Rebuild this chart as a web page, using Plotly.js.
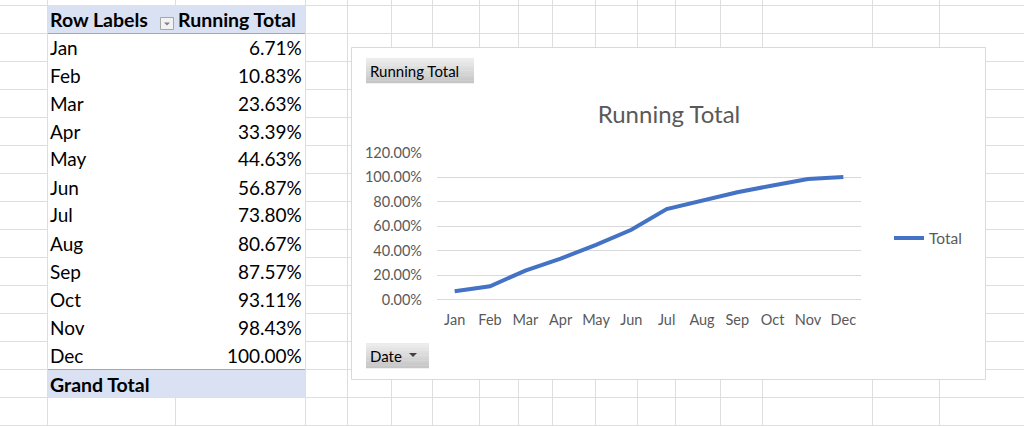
<!DOCTYPE html>
<html>
<head>
<meta charset="utf-8">
<script src="https://cdn.plot.ly/plotly-3.0.1.min.js"></script>
<style>html,body{margin:0;padding:0;background:#fff;}#chart{width:1024px;height:426px;}</style>
</head>
<body>
<div id="chart"></div>
<script>
// ---- data ----
const months = ['Jan','Feb','Mar','Apr','May','Jun','Jul','Aug','Sep','Oct','Nov','Dec'];
const runningTotal = [0.0671, 0.1083, 0.2363, 0.3339, 0.4463, 0.5687, 0.7380, 0.8067, 0.8757, 0.9311, 0.9843, 1.0000];
const seriesName = 'Total';
const chartTitle = 'Running Total';
const rowHeader = 'Row Labels';
const valueHeader = 'Running Total';
const grandTotalLabel = 'Grand Total';
const fieldButton = 'Running Total';
const axisButton = 'Date';

// ---- helpers (pixel -> paper) ----
const W = 1024, H = 426;
const X = p => p / W;
const Y = p => 1 - p / H;
const shapes = [];
const annotations = [];
function hline(x0, x1, y, color) {
  shapes.push({type:'line', xref:'paper', yref:'paper', layer:'below',
    x0:X(x0), x1:X(x1), y0:Y(y+0.5), y1:Y(y+0.5), line:{color:color, width:1}});
}
function vline(x, y0, y1, color) {
  shapes.push({type:'line', xref:'paper', yref:'paper', layer:'below',
    x0:X(x+0.5), x1:X(x+0.5), y0:Y(y0), y1:Y(y1), line:{color:color, width:1}});
}
function rect(x0, y0, x1, y1, fill, lc) {
  shapes.push({type:'rect', xref:'paper', yref:'paper', layer:'below',
    x0:X(x0), x1:X(x1), y0:Y(y1), y1:Y(y0), fillcolor:fill,
    line: lc ? {color:lc, width:1} : {width:0}});
}
function tri(pts, fill) {
  const d = 'M' + pts.map(p => X(p[0]) + ',' + Y(p[1])).join('L') + 'Z';
  shapes.push({type:'path', xref:'paper', yref:'paper', layer:'below', path:d,
    fillcolor:fill, line:{width:0}});
}
function gradButton(x0, y0, x1, y1) {
  const top = [236,236,236], bot = [198,198,198];
  const n = 10, h = (y1 - y0) / n;
  for (let i = 0; i < n; i++) {
    const t = i / (n - 1);
    const c = top.map((v, k) => Math.round(v + (bot[k] - v) * t));
    rect(x0, y0 + i * h, x1, y0 + (i + 1) * h + 0.3, 'rgb(' + c.join(',') + ')');
  }
}
function text(t, x, y, anchor, opts) {
  opts = opts || {};
  annotations.push({xref:'paper', yref:'paper', x:X(x), y:Y(y), text:t,
    showarrow:false, xanchor:anchor, yanchor:'middle', borderpad:0,
    font:{family:opts.family || 'Lato', size:opts.size || 19, color:opts.color || '#000000'}});
}

// ---- spreadsheet grid ----
const gridColor = '#dedede';
const colLines = [47, 175, 305, 347, 391, 432, 479, 518, 552, 595, 637, 675, 720, 762, 872, 939];
for (let k = 0; k <= 15; k++) hline(0, W, 5 + 28 * k, gridColor);
colLines.forEach(c => vline(c, 0, H, gridColor));

// ---- pivot table ----
rect(48, 33, 305, 369, '#ffffff');
rect(48, 5.5, 305, 33.5, '#d9e1f2');
hline(48, 305, 33, '#8ea9db');
rect(48, 369.5, 305, 397.5, '#d9e1f2');
hline(48, 305, 369, '#8ea9db');
// header filter button
rect(160.5, 17.5, 173.5, 29.5, '#f2f2f2', '#a6a6a6');
tri([[164,22.5],[170,22.5],[167,25.5]], '#808080');

text('<b>' + rowHeader + '</b>', 49, 19.5, 'left', {size:19.5});
text('<b>' + valueHeader + '</b>', 177, 19.5, 'left', {size:19.5});
months.forEach((m, i) => {
  const cy = 47 + 28 * i;
  text(m, 49, cy, 'left');
  text((runningTotal[i] * 100).toFixed(2) + '%', 303, cy, 'right');
});
text('<b>' + grandTotalLabel + '</b>', 49, 384, 'left', {size:19.5});

// ---- chart box ----
rect(351.5, 47.5, 985.5, 379.5, '#ffffff', '#d9d9d9');
gradButton(366, 58, 474, 83);
text(fieldButton, 369, 71, 'left', {size:15});
gradButton(366, 343, 429, 368);
text(axisButton, 369, 356, 'left', {size:15});
tri([[409,353],[417,353],[413,357]], '#404040');

// ---- plot ----
const trace = {
  x: months, y: runningTotal, name: seriesName, type: 'scatter', mode: 'lines',
  line: {color:'#4472c4', width:4}, showlegend: true, hoverinfo: 'skip'
};
const tickFont = {family:'Lato', size:14.5, color:'#595959'};
const layout = {
  width: W, height: H, autosize: false,
  margin: {l:0, r:0, t:0, b:0, pad:0},
  paper_bgcolor: 'rgba(0,0,0,0)', plot_bgcolor: 'rgba(0,0,0,0)',
  title: {text: chartTitle, xref:'container', yref:'container', x:X(669), xanchor:'center',
          y:Y(115), yanchor:'middle', font:{family:'Lato', size:24, color:'#595959'}},
  xaxis: {domain:[X(437), X(861)], type:'category', range:[-0.5, 11.5],
          showgrid:false, zeroline:false, showline:false, ticks:'', tickfont:tickFont,
          ticklabelstandoff: 10, fixedrange:true},
  yaxis: {domain:[Y(299.5), Y(152.5)], range:[0, 1.2], tick0:0, dtick:0.2, tickformat:'.2%',
          showgrid:true, gridcolor:'#d9d9d9', gridwidth:1,
          zeroline:true, zerolinecolor:'#d9d9d9', zerolinewidth:1,
          showline:false, ticks:'', tickfont:tickFont, ticklabelstandoff: 14, fixedrange:true},
  showlegend: true,
  legend: {x:X(889), xanchor:'left', y:Y(238.5), yanchor:'middle', bgcolor:'rgba(0,0,0,0)',
           font:{family:'Lato', size:15.5, color:'#595959'}},
  shapes: shapes,
  annotations: annotations
};
Plotly.newPlot('chart', [trace], layout, {displayModeBar:false, staticPlot:true});
</script>
</body>
</html>
